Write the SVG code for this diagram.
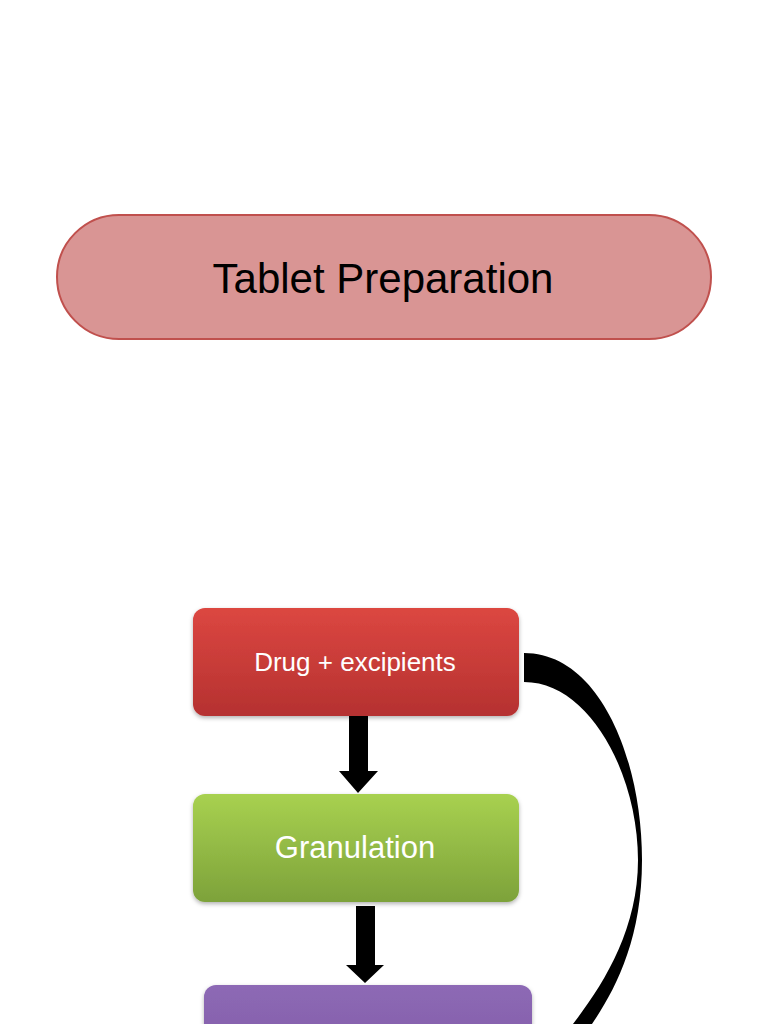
<svg xmlns="http://www.w3.org/2000/svg" width="768" height="1024" viewBox="0 0 768 1024">
<defs>
<linearGradient id="gRed" x1="0" y1="0" x2="0" y2="1"><stop offset="0" stop-color="#dc4741"/><stop offset="1" stop-color="#b53130"/></linearGradient>
<linearGradient id="gGreen" x1="0" y1="0" x2="0" y2="1"><stop offset="0" stop-color="#a8d150"/><stop offset="1" stop-color="#7da23a"/></linearGradient>
<linearGradient id="gPurple" x1="0" y1="0" x2="0" y2="1"><stop offset="0" stop-color="#8d69b5"/><stop offset="1" stop-color="#7d58a3"/></linearGradient>
<filter id="sh" x="-10%" y="-10%" width="120%" height="130%"><feDropShadow dx="0" dy="2" stdDeviation="2" flood-color="#000" flood-opacity="0.3"/></filter>
<style>
.lbl{font-family:"Liberation Sans",Arial,sans-serif;text-anchor:middle;fill:#ffffff}
.title{font-family:"Liberation Sans",Arial,sans-serif;text-anchor:middle;fill:#000000;font-size:42px}
.arrow{fill:#000000}
</style>
</defs>
<g id="title">
<rect x="57" y="215" width="654" height="124" rx="62" ry="62" fill="#d99594" stroke="#c0504d" stroke-width="2"/>
<text class="title" x="383" y="293">Tablet Preparation</text>
</g>
<g id="connectors">
<polygon class="arrow" points="349,716 368,716 368,771 378,771 358,793 339,771 349,771"/>
<polygon class="arrow" points="356,906 375,906 375,965 384,965 365,983 346,965 356,965"/>
<path class="arrow" d="M524,653 C600,653 642,760 642,860 C642,940 615,990 592,1024 L573,1024 C603,985 638,930 638,860 C638,775 590,682 524,682 Z"/>
</g>
<g id="drug">
<rect x="193" y="608" width="326" height="108" rx="12" ry="12" fill="url(#gRed)" filter="url(#sh)"/>
<text class="lbl" x="355" y="671" font-size="26">Drug + excipients</text>
</g>
<g id="granulation">
<rect x="193" y="794" width="326" height="108" rx="12" ry="12" fill="url(#gGreen)" filter="url(#sh)"/>
<text class="lbl" x="355" y="858" font-size="31">Granulation</text>
</g>
<g id="next">
<rect x="204" y="985" width="328" height="108" rx="12" ry="12" fill="url(#gPurple)" filter="url(#sh)"/>
</g>
</svg>
